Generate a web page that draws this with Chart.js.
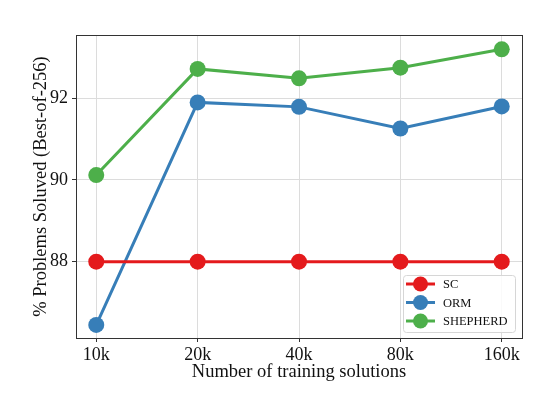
<!DOCTYPE html>
<html>
<head>
<meta charset="utf-8">
<script src="https://cdn.jsdelivr.net/npm/chart.js@4"></script>
<style>
  html, body { margin: 0; padding: 0; background: #fff; }
  #wrap { width: 548px; height: 393px; position: relative; }
</style>
</head>
<body>
<div id="wrap"><canvas id="chart"></canvas></div>
<script>
const categories = ['10k', '20k', '40k', '80k', '160k']
const scValues = [88, 88, 88, 88, 88]
const ormValues = [86.45, 91.9, 91.79, 91.26, 91.8]
const shepherdValues = [90.12, 92.72, 92.49, 92.75, 93.2]
const yTicks = [88, 90, 92]

const FONT = '"Liberation Serif", "Times New Roman", serif'

const toPoints = vals => vals.map((v, i) => ({ x: i, y: v }))

const series = [
  { label: 'SC', data: scValues, color: '#e41a1c' },
  { label: 'ORM', data: ormValues, color: '#377eb8' },
  { label: 'SHEPHERD', data: shepherdValues, color: '#4daf4a' },
]

// frame around the plot area, like matplotlib spines
const frame = {
  id: 'frame',
  beforeDatasetsDraw(chart) {
    const { ctx, chartArea: a } = chart
    ctx.save()
    ctx.strokeStyle = '#333'
    ctx.lineWidth = 1
    ctx.strokeRect(a.left + 0.5, a.top + 0.5, a.right - a.left, a.bottom - a.top)
    ctx.restore()
  },
}

// legend drawn inside the plot, lower right
const innerLegend = {
  id: 'innerLegend',
  afterDraw(chart) {
    const { ctx, chartArea: a } = chart
    const w = 112, h = 57
    const x = a.right - 7 - w, y = a.bottom - 6 - h
    ctx.save()
    ctx.fillStyle = 'rgba(255,255,255,0.85)'
    ctx.strokeStyle = '#d6d6d6'
    ctx.lineWidth = 1
    ctx.beginPath()
    ctx.roundRect(x + 0.5, y + 0.5, w, h, 3)
    ctx.fill()
    ctx.stroke()
    ctx.font = '12.5px ' + FONT
    ctx.textBaseline = 'middle'
    series.forEach((s, i) => {
      const cy = y + 9 + i * 18.5
      ctx.strokeStyle = s.color
      ctx.lineWidth = 3
      ctx.beginPath()
      ctx.moveTo(x + 3, cy)
      ctx.lineTo(x + 32, cy)
      ctx.stroke()
      ctx.fillStyle = s.color
      ctx.beginPath()
      ctx.arc(x + 17.5, cy, 7.5, 0, Math.PI * 2)
      ctx.fill()
      ctx.fillStyle = '#111'
      ctx.fillText(s.label, x + 40, cy + 1)
    })
    ctx.restore()
  },
}

new Chart(document.getElementById('chart'), {
  type: 'line',
  data: {
    datasets: series.map(s => ({
      label: s.label,
      data: toPoints(s.data),
      borderColor: s.color,
      backgroundColor: s.color,
      borderWidth: 3,
      pointRadius: 8,
      pointHoverRadius: 8,
      pointBorderWidth: 0,
      tension: 0,
      fill: false,
    })),
  },
  options: {
    responsive: true,
    maintainAspectRatio: false,
    animation: false,
    layout: { padding: { top: 35, right: 26, left: 0, bottom: 0 } },
    plugins: {
      legend: { display: false },
      tooltip: { enabled: false },
    },
    scales: {
      x: {
        type: 'linear',
        min: -0.2,
        max: 4.2,
        afterBuildTicks: axis => { axis.ticks = categories.map((c, i) => ({ value: i })) },
        afterFit: axis => { axis.height = 55 },
        grid: { color: '#dcdcdc', tickColor: '#333', tickLength: 4, drawTicks: true },
        border: { display: false },
        ticks: {
          color: '#111',
          font: { family: FONT, size: 18 },
          padding: 2,
          maxRotation: 0,
          callback: v => categories[v],
        },
        title: {
          display: true,
          text: 'Number of training solutions',
          color: '#111',
          font: { family: FONT, size: 18.5 },
          padding: { top: 0, bottom: 10 },
        },
      },
      y: {
        min: 86.13,
        max: 93.55,
        afterBuildTicks: axis => { axis.ticks = yTicks.map(v => ({ value: v })) },
        afterFit: axis => { axis.width = 76 },
        grid: { color: '#dcdcdc', tickColor: '#333', tickLength: 4 },
        border: { display: false },
        ticks: {
          color: '#111',
          font: { family: FONT, size: 18 },
          padding: 4,
        },
        title: {
          display: true,
          text: '% Problems Soluved (Best-of-256)',
          color: '#111',
          font: { family: FONT, size: 18.5 },
          padding: { top: 30, bottom: 0 },
        },
      },
    },
  },
  plugins: [frame, innerLegend],
})
</script>
</body>
</html>
